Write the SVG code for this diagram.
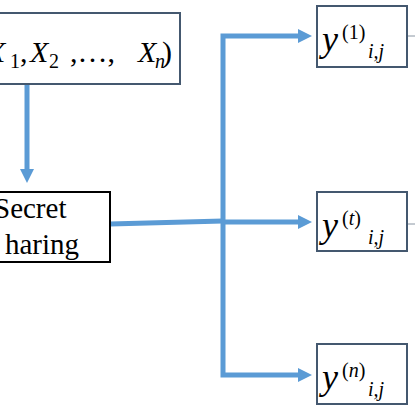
<svg xmlns="http://www.w3.org/2000/svg" width="415" height="415" viewBox="0 0 415 415">
<style>
.bg{fill:#ffffff}
.box{fill:#ffffff;stroke:#44586f;stroke-width:2}
.bbox{fill:#ffffff;stroke:#000000;stroke-width:2}
.conn{fill:none;stroke:#5b9bd5;stroke-width:5;stroke-linejoin:miter}
.thin{fill:none;stroke:#8a96a3;stroke-width:1}
svg g text, svg text, text, tspan{font-family:'Liberation Serif',serif !important}
.it{font-style:italic}
</style>
<defs>
<marker id="ah" markerUnits="userSpaceOnUse" markerWidth="14" markerHeight="14" viewBox="0 0 14 14" refX="1" refY="7" orient="auto">
<path d="M0,0 L14,7 L0,14 Z" fill="#5b9bd5"/>
</marker>
</defs>
<rect class="bg" x="0" y="0" width="415" height="415"/>
<g id="connectors">
<path class="conn" d="M27,85 V170" marker-end="url(#ah)"/>
<path class="conn" d="M110,224 L223,221"/>
<path class="conn" d="M223,222 V36 H299" marker-end="url(#ah)"/>
<path class="conn" d="M223,222 V375 H299" marker-end="url(#ah)"/>
<path class="conn" d="M223,222 H299" marker-end="url(#ah)"/>
<path class="thin" d="M407,36 H415"/>
<path class="thin" d="M407,224 H415"/>
</g>
<g id="node-input">
<rect class="box" x="-10" y="13" width="190" height="71"/>
<text class="it" x="-13" y="62" font-size="30" font-family="Liberation Serif" style="font-family:'Liberation Serif',serif">X</text>
<text x="10" y="68" font-size="20" font-family="Liberation Serif" style="font-family:'Liberation Serif',serif">1</text>
<text x="20" y="62" font-size="30" font-family="Liberation Serif" style="font-family:'Liberation Serif',serif">,</text>
<text class="it" x="30" y="62" font-size="30" font-family="Liberation Serif" style="font-family:'Liberation Serif',serif">X</text>
<text x="49" y="68" font-size="20" font-family="Liberation Serif" style="font-family:'Liberation Serif',serif">2</text>
<text x="70" y="62" font-size="30" font-family="Liberation Serif" style="font-family:'Liberation Serif',serif">,&#x2026;,</text>
<text class="it" x="138" y="62" font-size="30" font-family="Liberation Serif" style="font-family:'Liberation Serif',serif">X</text>
<text class="it" x="155" y="68" font-size="20" font-family="Liberation Serif" style="font-family:'Liberation Serif',serif">n</text>
<text x="162" y="62" font-size="30" font-family="Liberation Serif" style="font-family:'Liberation Serif',serif">)</text>
</g>
<g id="node-secret">
<rect class="bbox" x="-10" y="192" width="120" height="70"/>
<text x="-6" y="218" font-size="29" font-family="Liberation Serif" style="font-family:'Liberation Serif',serif">Secret</text>
<text x="5" y="254" font-size="29" font-family="Liberation Serif" style="font-family:'Liberation Serif',serif">haring</text>
</g>
<g id="node-y1">
<rect class="box" x="317" y="6" width="90" height="61"/>
<text class="it" x="322" y="51" font-size="36" font-family="Liberation Serif" style="font-family:'Liberation Serif',serif">y</text>
<text x="342" y="39" font-size="20" font-family="Liberation Serif" style="font-family:'Liberation Serif',serif">(1)</text>
<text class="it" x="368" y="58" font-size="20" font-family="Liberation Serif" style="font-family:'Liberation Serif',serif">i,j</text>
</g>
<g id="node-yt">
<rect class="box" x="317" y="192" width="90" height="59"/>
<text class="it" x="322" y="237" font-size="36" font-family="Liberation Serif" style="font-family:'Liberation Serif',serif">y</text>
<text x="342" y="225" font-size="20" font-family="Liberation Serif" style="font-family:'Liberation Serif',serif">(<tspan class="it">t</tspan>)</text>
<text class="it" x="368" y="244" font-size="20" font-family="Liberation Serif" style="font-family:'Liberation Serif',serif">i,j</text>
</g>
<g id="node-yn">
<rect class="box" x="317" y="344" width="90" height="60"/>
<text class="it" x="322" y="389" font-size="36" font-family="Liberation Serif" style="font-family:'Liberation Serif',serif">y</text>
<text x="342" y="377" font-size="20" font-family="Liberation Serif" style="font-family:'Liberation Serif',serif">(<tspan class="it">n</tspan>)</text>
<text class="it" x="368" y="396" font-size="20" font-family="Liberation Serif" style="font-family:'Liberation Serif',serif">i,j</text>
</g>
</svg>
